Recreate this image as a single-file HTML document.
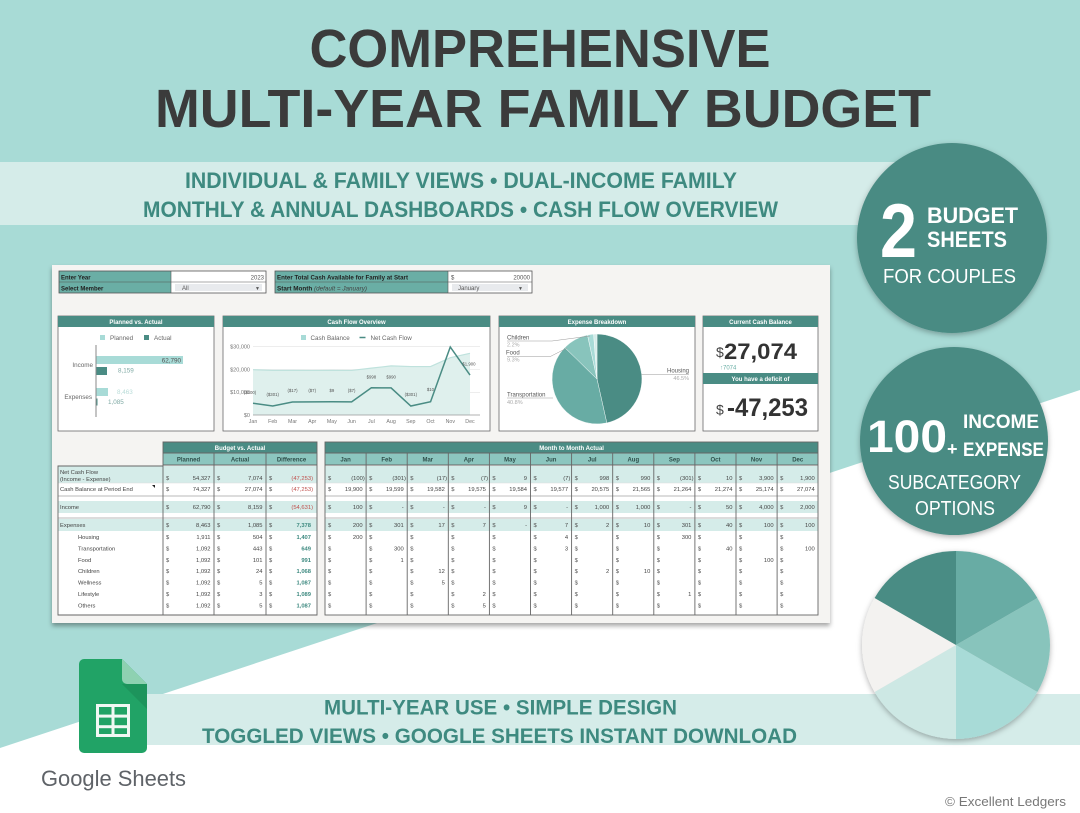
<!DOCTYPE html>
<html><head><meta charset="utf-8"><style>
html,body{margin:0;padding:0;background:#fff;}
svg{display:block;font-family:"Liberation Sans",Arial,sans-serif;}
</style></head><body>
<svg width="1080" height="813" viewBox="0 0 1080 813" xmlns="http://www.w3.org/2000/svg">
<defs>
<filter id="sh" x="-10%" y="-10%" width="120%" height="125%"><feDropShadow dx="0" dy="3" stdDeviation="2.5" flood-color="#000" flood-opacity="0.35"/></filter>
<filter id="cs" x="-20%" y="-20%" width="140%" height="140%"><feDropShadow dx="0" dy="2" stdDeviation="3" flood-color="#000" flood-opacity="0.3"/></filter>
</defs>
<rect width="1080" height="813" fill="#fff"/>
<polygon points="0,0 1080,0 1080,390 0,748" fill="#a8dbd6"/>
<rect x="0" y="162" width="900" height="63" fill="#d5ece9"/>
<rect x="110" y="694" width="970" height="51" fill="#d5ece9"/>

<!-- Title -->
<text x="540" y="67" text-anchor="middle" font-size="54" font-weight="bold" fill="#3b3b3b" textLength="461" lengthAdjust="spacingAndGlyphs">COMPREHENSIVE</text>
<text x="543" y="127" text-anchor="middle" font-size="54" font-weight="bold" fill="#3b3b3b" textLength="776" lengthAdjust="spacingAndGlyphs">MULTI-YEAR FAMILY BUDGET</text>
<text x="461" y="188" text-anchor="middle" font-size="22.5" font-weight="bold" fill="#3e8a80" textLength="552" lengthAdjust="spacingAndGlyphs">INDIVIDUAL &amp; FAMILY VIEWS • DUAL-INCOME FAMILY</text>
<text x="460.5" y="217" text-anchor="middle" font-size="22.5" font-weight="bold" fill="#3e8a80" textLength="635" lengthAdjust="spacingAndGlyphs">MONTHLY &amp; ANNUAL DASHBOARDS • CASH FLOW OVERVIEW</text>

<!-- Circles -->
<g filter="url(#cs)">
<circle cx="952" cy="238" r="95" fill="#4a8b83"/>
<circle cx="954" cy="441" r="94" fill="#4a8b83"/>
</g>
<text x="880" y="257" font-size="76" font-weight="bold" fill="#fff" textLength="37" lengthAdjust="spacingAndGlyphs">2</text>
<text x="927" y="223" font-size="22" font-weight="bold" fill="#fff" textLength="91" lengthAdjust="spacingAndGlyphs">BUDGET</text>
<text x="927" y="247" font-size="22" font-weight="bold" fill="#fff" textLength="80" lengthAdjust="spacingAndGlyphs">SHEETS</text>
<text x="883" y="283" font-size="20.5" fill="#fff" textLength="133" lengthAdjust="spacingAndGlyphs">FOR COUPLES</text>
<text x="867" y="452" font-size="45" font-weight="bold" fill="#fff" textLength="80" lengthAdjust="spacingAndGlyphs">100</text>
<text x="947" y="455" font-size="18" font-weight="bold" fill="#fff">+</text>
<text x="963" y="428" font-size="19" font-weight="bold" fill="#fff" textLength="76" lengthAdjust="spacingAndGlyphs">INCOME</text>
<text x="963" y="456" font-size="19" font-weight="bold" fill="#fff" textLength="81" lengthAdjust="spacingAndGlyphs">EXPENSE</text>
<text x="888" y="489" font-size="20" fill="#fff" textLength="133" lengthAdjust="spacingAndGlyphs">SUBCATEGORY</text>
<text x="915" y="515" font-size="20" fill="#fff" textLength="80" lengthAdjust="spacingAndGlyphs">OPTIONS</text>

<!-- Bottom pie -->
<g filter="url(#cs)">
<path d="M956,645 L956,551 A94,94 0 0,1 1037.4,598 Z" fill="#68aca4"/>
<path d="M956,645 L1037.4,598 A94,94 0 0,1 1037.4,692 Z" fill="#88c4bc"/>
<path d="M956,645 L1037.4,692 A94,94 0 0,1 956,739 Z" fill="#a8dbd7"/>
<path d="M956,645 L956,739 A94,94 0 0,1 874.6,692 Z" fill="#cde8e4"/>
<path d="M956,645 L874.6,692 A94,94 0 0,1 874.6,598 Z" fill="#f3f2f0"/>
<path d="M956,645 L874.6,598 A94,94 0 0,1 956,551 Z" fill="#4a8c84"/>
</g>

<!-- Bottom texts -->
<text x="500.5" y="714.5" text-anchor="middle" font-size="21.5" font-weight="bold" fill="#3e8a80" textLength="353" lengthAdjust="spacingAndGlyphs">MULTI-YEAR USE • SIMPLE DESIGN</text>
<text x="499.5" y="743" text-anchor="middle" font-size="21.5" font-weight="bold" fill="#3e8a80" textLength="595" lengthAdjust="spacingAndGlyphs">TOGGLED VIEWS • GOOGLE SHEETS INSTANT DOWNLOAD</text>

<!-- Google Sheets icon -->
<path d="M84,659 H122 L147,684 V748 A5,5 0 0 1 142,753 H84 A5,5 0 0 1 79,748 V664 A5,5 0 0 1 84,659 Z" fill="#21a366"/>
<path d="M122,684 L147,709 V684 Z" fill="#1a8a55" opacity="0.6"/>
<path d="M122,659 V679 A5,5 0 0 0 127,684 H147 Z" fill="#8ed1b1"/>
<rect x="96" y="704" width="34" height="33" fill="#f1f8f4"/>
<g fill="#21a366">
<rect x="99" y="707" width="12.5" height="7.6"/><rect x="114.5" y="707" width="12.5" height="7.6"/>
<rect x="99" y="717.6" width="12.5" height="7.6"/><rect x="114.5" y="717.6" width="12.5" height="7.6"/>
<rect x="99" y="728.2" width="12.5" height="5.8"/><rect x="114.5" y="728.2" width="12.5" height="5.8"/>
</g>
<text x="41" y="786" font-size="22" fill="#5f6368" textLength="145" lengthAdjust="spacingAndGlyphs">Google Sheets</text>
<text x="1066" y="806" text-anchor="end" font-size="13" fill="#777" textLength="121" lengthAdjust="spacingAndGlyphs">© Excellent Ledgers</text>

<!-- Dashboard panel -->
<rect x="52" y="265" width="778" height="358" fill="#f5f4f2" filter="url(#sh)"/>

<!-- Input tables -->
<rect x="59" y="271" width="112" height="22" fill="#6aaea5"/>
<rect x="171" y="271" width="95" height="22" fill="#fff"/>
<rect x="175" y="284" width="87" height="7" fill="#e8eaed"/>
<rect x="59" y="271" width="207" height="22" fill="none" stroke="#555" stroke-width="0.8"/>
<line x1="59" y1="282" x2="266" y2="282" stroke="#555" stroke-width="0.6"/>
<line x1="171" y1="271" x2="171" y2="293" stroke="#555" stroke-width="0.6"/>
<rect x="275" y="271" width="173" height="22" fill="#6aaea5"/>
<rect x="448" y="271" width="84" height="22" fill="#fff"/>
<rect x="452" y="284" width="76" height="7" fill="#e8eaed"/>
<rect x="275" y="271" width="257" height="22" fill="none" stroke="#555" stroke-width="0.8"/>
<line x1="275" y1="282" x2="532" y2="282" stroke="#555" stroke-width="0.6"/>
<line x1="448" y1="271" x2="448" y2="293" stroke="#555" stroke-width="0.6"/>
<g font-size="6" font-weight="bold" fill="#222">
<text x="61" y="279.5">Enter Year</text>
<text x="61" y="290.5">Select Member</text>
<text x="277" y="279.5" textLength="131" lengthAdjust="spacingAndGlyphs">Enter Total Cash Available for Family at Start</text>
<text x="277" y="290.5" textLength="90" lengthAdjust="spacingAndGlyphs">Start Month<tspan font-weight="normal" font-style="italic" fill="#444"> (default = January)</tspan></text>
</g>
<g font-size="6" fill="#555">
<text x="264" y="279.5" text-anchor="end">2023</text>
<text x="182" y="290">All</text>
<text x="255" y="290" font-size="5">▼</text>
<text x="451" y="279.5">$</text>
<text x="530" y="279.5" text-anchor="end">20000</text>
<text x="458" y="290">January</text>
<text x="518" y="290" font-size="5">▼</text>
</g>

<!-- Card frames -->
<g fill="#fff" stroke="#6a6a6a" stroke-width="0.8">
<rect x="58" y="316" width="156" height="115"/>
<rect x="223" y="316" width="267" height="115"/>
<rect x="499" y="316" width="196" height="115"/>
<rect x="703" y="316" width="115" height="115"/>
</g>
<g fill="#4a8c84">
<rect x="58" y="316" width="156" height="11"/>
<rect x="223" y="316" width="267" height="11"/>
<rect x="499" y="316" width="196" height="11"/>
<rect x="703" y="316" width="115" height="11"/>
<rect x="703" y="373" width="115" height="11"/>
</g>
<g font-size="6" font-weight="bold" fill="#fff" text-anchor="middle">
<text x="136" y="324">Planned vs. Actual</text>
<text x="356.5" y="324">Cash Flow Overview</text>
<text x="597" y="324">Expense Breakdown</text>
<text x="760.5" y="324">Current Cash Balance</text>
<text x="760.5" y="381">You have a deficit of</text>
</g>

<!-- Card A: Planned vs Actual -->
<rect x="100" y="335" width="5" height="5" fill="#a8dbd7"/>
<rect x="144" y="335" width="5" height="5" fill="#4a8c84"/>
<g font-size="6.3" fill="#666">
<text x="110" y="340">Planned</text>
<text x="154" y="340">Actual</text>
<text x="93" y="367" text-anchor="end">Income</text>
<text x="92" y="399" text-anchor="end">Expenses</text>
</g>
<rect x="96" y="356" width="87" height="8" fill="#a8dbd7"/>
<rect x="96" y="367" width="11" height="8" fill="#4a8c84"/>
<rect x="96" y="388" width="12" height="8" fill="#a8dbd7"/>
<rect x="96" y="398.5" width="1.5" height="7" fill="#4a8c84"/>
<line x1="96" y1="345" x2="96" y2="417" stroke="#888" stroke-width="1"/>
<g font-size="6.3">
<text x="181" y="362.5" text-anchor="end" fill="#555">62,790</text>
<text x="118" y="372.5" fill="#7fa9a4">8,159</text>
<text x="117" y="394" fill="#b9dcd8">8,463</text>
<text x="108" y="404" fill="#7fa9a4">1,085</text>
</g>

<!-- Card B: Cash Flow -->
<rect x="301" y="335" width="5" height="5" fill="#a8dbd7"/>
<line x1="359.5" y1="337.5" x2="365.5" y2="337.5" stroke="#4a8c84" stroke-width="1.5"/>
<g font-size="6.3" fill="#666">
<text x="310.5" y="340">Cash Balance</text>
<text x="370.5" y="340">Net Cash Flow</text>
</g>
<g stroke="#e2e2e2" stroke-width="0.6">
<line x1="253" y1="346.7" x2="480" y2="346.7"/>
<line x1="253" y1="369.5" x2="480" y2="369.5"/>
<line x1="253" y1="392.3" x2="480" y2="392.3"/>
</g>
<polygon points="253,369.69 272.73,370.37 292.45,370.41 312.18,370.43 331.91,370.41 351.64,370.42 371.36,368.15 391.09,365.9 410.82,366.58 430.55,366.56 450.27,357.68 470,353.35 470,415 253,415" fill="#dff0ed"/>
<polyline points="253,369.69 272.73,370.37 292.45,370.41 312.18,370.43 331.91,370.41 351.64,370.42 371.36,368.15 391.09,365.9 410.82,366.58 430.55,366.56 450.27,357.68 470,353.35" fill="none" stroke="#bfe2dd" stroke-width="1.2"/>
<line x1="253" y1="415" x2="480" y2="415" stroke="#999" stroke-width="0.7"/>
<polyline points="253,403.2 272.73,406 292.45,402 312.18,401.9 331.91,401.7 351.64,401.9 371.36,387.8 391.09,387.9 410.82,406 430.55,401.7 450.27,347 470,375.1" fill="none" stroke="#4a8c84" stroke-width="1.5"/>
<g font-size="5.5" fill="#777" text-anchor="end">
<text x="250" y="348.5">$30,000</text>
<text x="250" y="371.5">$20,000</text>
<text x="250" y="394">$10,000</text>
<text x="250" y="417">$0</text>
</g>
<g font-size="5.3" fill="#777" text-anchor="middle">
<text x="253" y="423">Jan</text><text x="272.7" y="423">Feb</text><text x="292.5" y="423">Mar</text><text x="312.2" y="423">Apr</text><text x="331.9" y="423">May</text><text x="351.6" y="423">Jun</text><text x="371.4" y="423">Jul</text><text x="391.1" y="423">Aug</text><text x="410.8" y="423">Sep</text><text x="430.5" y="423">Oct</text><text x="450.3" y="423">Nov</text><text x="470" y="423">Dec</text>
</g>
<g font-size="4.3" fill="#555" text-anchor="middle">
<text x="250" y="394">($100)</text><text x="272.7" y="396">($301)</text><text x="292.5" y="392">($17)</text><text x="312.2" y="392">($7)</text><text x="331.9" y="392">$9</text><text x="351.6" y="392">($7)</text><text x="371.4" y="378.5">$998</text><text x="391.1" y="378.5">$990</text><text x="410.8" y="396">($301)</text><text x="430.5" y="391">$10</text><text x="469" y="365.5">$1,900</text>
</g>

<!-- Card C: Pie -->
<g stroke="#fff" stroke-width="0.4">
<path d="M597,379 L597,334 A45,45 0 0,1 606.8,422.9 Z" fill="#4a8c84"/>
<path d="M597,379 L606.8,422.9 A45,45 0 0,1 564.8,347.6 Z" fill="#68aca4"/>
<path d="M597,379 L564.8,347.6 A45,45 0 0,1 587.5,335 Z" fill="#88c4bc"/>
<path d="M597,379 L587.5,335 A45,45 0 0,1 593.6,334.1 Z" fill="#a8dbd7"/>
<path d="M597,379 L593.6,334.1 A45,45 0 0,1 597,334 Z" fill="#d5ece9"/>
</g>
<g stroke="#999" stroke-width="0.5" fill="none">
<polyline points="507,341 552,341 590,336"/>
<polyline points="507,356.7 550,356.7 567,348"/>
<polyline points="507,398 553,398"/>
<polyline points="641.7,374.3 689,374.3"/>
</g>
<g font-size="6" fill="#555">
<text x="507" y="339.5">Children</text>
<text x="506" y="354.5">Food</text>
<text x="507" y="396.5">Transportation</text>
<text x="689" y="372.5" text-anchor="end">Housing</text>
</g>
<g font-size="5.5" fill="#aaa">
<text x="507" y="346.5">2.2%</text>
<text x="507" y="361.5">9.3%</text>
<text x="507" y="404">40.8%</text>
<text x="689" y="380" text-anchor="end">46.5%</text>
</g>

<!-- Card D -->
<text x="716" y="357" font-size="14" fill="#444">$</text>
<text x="724" y="359" font-size="22.5" font-weight="bold" fill="#333" textLength="73" lengthAdjust="spacingAndGlyphs">27,074</text>
<text x="720" y="369.5" font-size="6" fill="#6aaea5">↑7074</text>
<text x="716" y="414.5" font-size="14" fill="#444">$</text>
<text x="727" y="416" font-size="25" font-weight="bold" fill="#333" textLength="81" lengthAdjust="spacingAndGlyphs">-47,253</text>

<!-- Bottom tables: backgrounds -->
<rect x="58" y="466" width="259" height="149" fill="#fff"/>
<rect x="325" y="466" width="493" height="149" fill="#fff"/>
<g fill="#d5ece9">
<rect x="58" y="466" width="259" height="17"/>
<rect x="325" y="466" width="493" height="17"/>
<rect x="58" y="501" width="259" height="12"/>
<rect x="325" y="501" width="493" height="12"/>
<rect x="58" y="519" width="259" height="12"/>
<rect x="325" y="519" width="493" height="12"/>
</g>
<rect x="163" y="442" width="154" height="11" fill="#4a8c84"/>
<rect x="163" y="453" width="154" height="12" fill="#8cc6bf"/>
<rect x="325" y="442" width="493" height="11" fill="#4a8c84"/>
<rect x="325" y="453" width="493" height="12" fill="#8cc6bf"/>
<g font-size="6" font-weight="bold" fill="#fff" text-anchor="middle">
<text x="240" y="450">Budget vs. Actual</text>
<text x="571.6" y="450">Month to Month Actual</text>
</g>
<g font-size="6" font-weight="bold" fill="#2f4f4b" text-anchor="middle">
<text x="188.5" y="461.5">Planned</text><text x="240" y="461.5">Actual</text><text x="291.5" y="461.5">Difference</text>
<text x="345.6" y="461.5">Jan</text><text x="386.7" y="461.5">Feb</text><text x="427.8" y="461.5">Mar</text><text x="468.9" y="461.5">Apr</text><text x="510" y="461.5">May</text><text x="551.1" y="461.5">Jun</text><text x="592.2" y="461.5">Jul</text><text x="633.3" y="461.5">Aug</text><text x="674.4" y="461.5">Sep</text><text x="715.5" y="461.5">Oct</text><text x="756.6" y="461.5">Nov</text><text x="797.7" y="461.5">Dec</text>
</g>

<!-- table lines -->
<g stroke="#777" stroke-width="0.6">
<line x1="58" y1="496" x2="317" y2="496"/><line x1="325" y1="496" x2="818" y2="496"/>
<line x1="58" y1="518" x2="317" y2="518"/><line x1="325" y1="518" x2="818" y2="518"/>
<line x1="58" y1="483" x2="317" y2="483" stroke="#ddd"/><line x1="325" y1="483" x2="818" y2="483" stroke="#ddd"/>
</g>
<g stroke="#666" stroke-width="0.9" fill="none">
<polyline points="163,466 58,466 58,615 317,615 317,442 163,442 163,615"/>
<line x1="214" y1="453" x2="214" y2="615"/>
<line x1="266" y1="453" x2="266" y2="615"/>
<line x1="163" y1="453" x2="317" y2="453"/>
<line x1="163" y1="465" x2="317" y2="465"/>
<rect x="325" y="442" width="493" height="173"/>
<line x1="325" y1="453" x2="818" y2="453"/>
<line x1="325" y1="465" x2="818" y2="465"/>
<line x1="366.1" y1="453" x2="366.1" y2="615"/><line x1="407.2" y1="453" x2="407.2" y2="615"/><line x1="448.3" y1="453" x2="448.3" y2="615"/><line x1="489.4" y1="453" x2="489.4" y2="615"/><line x1="530.5" y1="453" x2="530.5" y2="615"/><line x1="571.6" y1="453" x2="571.6" y2="615"/><line x1="612.7" y1="453" x2="612.7" y2="615"/><line x1="653.8" y1="453" x2="653.8" y2="615"/><line x1="694.9" y1="453" x2="694.9" y2="615"/><line x1="736" y1="453" x2="736" y2="615"/><line x1="777.1" y1="453" x2="777.1" y2="615"/>
</g>

<!-- row labels -->
<g font-size="5.8" fill="#444">
<text x="60" y="474">Net Cash Flow</text>
<text x="60" y="481">(Income - Expense)</text>
<text x="60" y="491">Cash Balance at Period End</text>
<text x="60" y="509">Income</text>
<text x="60" y="527">Expenses</text>
<text x="78" y="539">Housing</text>
<text x="78" y="550.4">Transportation</text>
<text x="78" y="561.8">Food</text>
<text x="78" y="573.2">Children</text>
<text x="78" y="584.6">Wellness</text>
<text x="78" y="596">Lifestyle</text>
<text x="78" y="607.4">Others</text>
</g>
<path d="M152,485 L155,485 L155,488 Z" fill="#222"/>

<!-- $ signs -->
<g font-size="5.8" fill="#555">
<text x="166 217 269" y="480">$$$</text>
<text x="166 217 269" y="491">$$$</text>
<text x="166 217 269" y="509">$$$</text>
<text x="166 217 269" y="527">$$$</text>
<text x="166 217 269" y="539">$$$</text>
<text x="166 217 269" y="550.4">$$$</text>
<text x="166 217 269" y="561.8">$$$</text>
<text x="166 217 269" y="573.2">$$$</text>
<text x="166 217 269" y="584.6">$$$</text>
<text x="166 217 269" y="596">$$$</text>
<text x="166 217 269" y="607.4">$$$</text>
<text x="328 369.1 410.2 451.3 492.4 533.5 574.6 615.7 656.8 697.9 739 780.1" y="480">$$$$$$$$$$$$</text>
<text x="328 369.1 410.2 451.3 492.4 533.5 574.6 615.7 656.8 697.9 739 780.1" y="491">$$$$$$$$$$$$</text>
<text x="328 369.1 410.2 451.3 492.4 533.5 574.6 615.7 656.8 697.9 739 780.1" y="509">$$$$$$$$$$$$</text>
<text x="328 369.1 410.2 451.3 492.4 533.5 574.6 615.7 656.8 697.9 739 780.1" y="527">$$$$$$$$$$$$</text>
<text x="328 369.1 410.2 451.3 492.4 533.5 574.6 615.7 656.8 697.9 739 780.1" y="539">$$$$$$$$$$$$</text>
<text x="328 369.1 410.2 451.3 492.4 533.5 574.6 615.7 656.8 697.9 739 780.1" y="550.4">$$$$$$$$$$$$</text>
<text x="328 369.1 410.2 451.3 492.4 533.5 574.6 615.7 656.8 697.9 739 780.1" y="561.8">$$$$$$$$$$$$</text>
<text x="328 369.1 410.2 451.3 492.4 533.5 574.6 615.7 656.8 697.9 739 780.1" y="573.2">$$$$$$$$$$$$</text>
<text x="328 369.1 410.2 451.3 492.4 533.5 574.6 615.7 656.8 697.9 739 780.1" y="584.6">$$$$$$$$$$$$</text>
<text x="328 369.1 410.2 451.3 492.4 533.5 574.6 615.7 656.8 697.9 739 780.1" y="596">$$$$$$$$$$$$</text>
<text x="328 369.1 410.2 451.3 492.4 533.5 574.6 615.7 656.8 697.9 739 780.1" y="607.4">$$$$$$$$$$$$</text>
</g>

<!-- Budget values -->
<g font-size="5.8" fill="#444" text-anchor="end">
<text x="210.5" y="480">54,327</text><text x="262.5" y="480">7,074</text>
<text x="210.5" y="491">74,327</text><text x="262.5" y="491">27,074</text>
<text x="210.5" y="509">62,790</text><text x="262.5" y="509">8,159</text>
<text x="210.5" y="527">8,463</text><text x="262.5" y="527">1,085</text>
<text x="210.5" y="539">1,911</text><text x="262.5" y="539">504</text>
<text x="210.5" y="550.4">1,092</text><text x="262.5" y="550.4">443</text>
<text x="210.5" y="561.8">1,092</text><text x="262.5" y="561.8">101</text>
<text x="210.5" y="573.2">1,092</text><text x="262.5" y="573.2">24</text>
<text x="210.5" y="584.6">1,092</text><text x="262.5" y="584.6">5</text>
<text x="210.5" y="596">1,092</text><text x="262.5" y="596">3</text>
<text x="210.5" y="607.4">1,092</text><text x="262.5" y="607.4">5</text>
</g>
<g font-size="5.8" fill="#c0504d" text-anchor="end">
<text x="313" y="480">(47,253)</text>
<text x="313" y="491">(47,253)</text>
<text x="313" y="509">(54,631)</text>
</g>
<g font-size="5.8" fill="#3e8a80" font-weight="bold" text-anchor="end">
<text x="311" y="527">7,378</text>
<text x="311" y="539">1,407</text>
<text x="311" y="550.4">649</text>
<text x="311" y="561.8">991</text>
<text x="311" y="573.2">1,068</text>
<text x="311" y="584.6">1,087</text>
<text x="311" y="596">1,089</text>
<text x="311" y="607.4">1,087</text>
</g>

<!-- Month values -->
<g font-size="5.8" fill="#444" text-anchor="end">
<text x="364.8" y="480">(100)</text><text x="405.9" y="480">(301)</text><text x="447" y="480">(17)</text><text x="488.1" y="480">(7)</text><text x="527" y="480">9</text><text x="570.3" y="480">(7)</text><text x="609.2" y="480">998</text><text x="650.3" y="480">990</text><text x="693.6" y="480">(301)</text><text x="732.5" y="480">10</text><text x="773.6" y="480">3,900</text><text x="814.7" y="480">1,900</text>
<text x="362.6" y="491">19,900</text><text x="403.7" y="491">19,599</text><text x="444.8" y="491">19,582</text><text x="485.9" y="491">19,575</text><text x="527" y="491">19,584</text><text x="568.1" y="491">19,577</text><text x="609.2" y="491">20,575</text><text x="650.3" y="491">21,565</text><text x="691.4" y="491">21,264</text><text x="732.5" y="491">21,274</text><text x="773.6" y="491">25,174</text><text x="814.7" y="491">27,074</text>
<text x="362.6" y="509">100</text><text x="403.7" y="509">-</text><text x="444.8" y="509">-</text><text x="485.9" y="509">-</text><text x="527" y="509">9</text><text x="568.1" y="509">-</text><text x="609.2" y="509">1,000</text><text x="650.3" y="509">1,000</text><text x="691.4" y="509">-</text><text x="732.5" y="509">50</text><text x="773.6" y="509">4,000</text><text x="814.7" y="509">2,000</text>
<text x="362.6" y="527">200</text><text x="403.7" y="527">301</text><text x="444.8" y="527">17</text><text x="485.9" y="527">7</text><text x="527" y="527">-</text><text x="568.1" y="527">7</text><text x="609.2" y="527">2</text><text x="650.3" y="527">10</text><text x="691.4" y="527">301</text><text x="732.5" y="527">40</text><text x="773.6" y="527">100</text><text x="814.7" y="527">100</text>
<text x="362.6" y="539">200</text><text x="568.1" y="539">4</text><text x="691.4" y="539">300</text>
<text x="403.7" y="550.4">300</text><text x="568.1" y="550.4">3</text><text x="732.5" y="550.4">40</text><text x="814.7" y="550.4">100</text>
<text x="403.7" y="561.8">1</text><text x="773.6" y="561.8">100</text>
<text x="444.8" y="573.2">12</text><text x="609.2" y="573.2">2</text><text x="650.3" y="573.2">10</text>
<text x="444.8" y="584.6">5</text>
<text x="485.9" y="596">2</text><text x="691.4" y="596">1</text>
<text x="485.9" y="607.4">5</text>
</g>
</svg>
</body></html>
